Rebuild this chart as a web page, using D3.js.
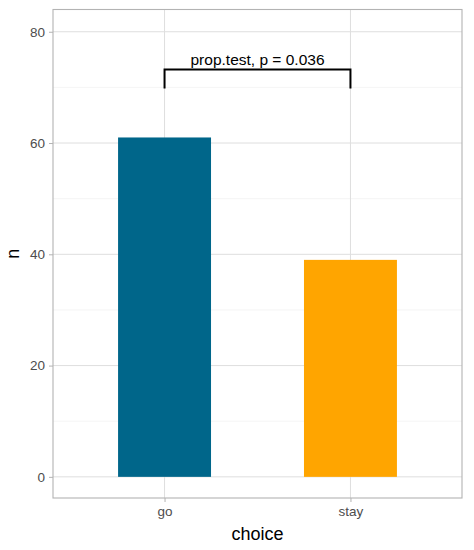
<!DOCTYPE html>
<html>
<head>
<meta charset="utf-8">
<script src="https://cdn.jsdelivr.net/npm/d3@7"></script>
<style>
  body { margin: 0; background: #fff; }
  text { font-family: "Liberation Sans", Arial, sans-serif; }
</style>
</head>
<body>
<div id="chart"></div>
<script>
const categories = ["go", "stay"];
const counts = [61, 39];
const barColors = ["#00668A", "#FFA500"];
const yTicks = [0, 20, 40, 60, 80];
const yMinor = [10, 30, 50, 70];
const testLabel = "prop.test, p = 0.036";
const bracketTop = 73.2;
const bracketBottom = 69.8;

const margin = { top: 9.5, right: 12, bottom: 52, left: 53 },
  width = 474 - margin.left - margin.right,
  height = 550 - margin.top - margin.bottom;

const svg = d3
  .select("#chart")
  .append("svg")
  .attr("width", 474)
  .attr("height", 550)
  .append("g")
  .attr("transform", "translate(" + margin.left + "," + margin.top + ")");

// discrete axis with ggplot's 0.6 expansion
const x = d3.scaleLinear().domain([0.4, 2.6]).range([0, width]);
const xc = (d) => x(categories.indexOf(d) + 1);
const bw = x(1.25) - x(0.75);

const y = d3.scaleLinear().domain([-3.8, 84]).range([height, 0]);

// grid
svg.selectAll(".minor").data(yMinor).enter().append("line")
  .attr("x1", 0).attr("x2", width)
  .attr("y1", (d) => y(d)).attr("y2", (d) => y(d))
  .attr("stroke", "#ebebeb").attr("stroke-width", 0.5);
svg.selectAll(".major").data(yTicks).enter().append("line")
  .attr("x1", 0).attr("x2", width)
  .attr("y1", (d) => y(d)).attr("y2", (d) => y(d))
  .attr("stroke", "#dedede").attr("stroke-width", 1);
svg.selectAll(".vmajor").data(categories).enter().append("line")
  .attr("x1", xc).attr("x2", xc)
  .attr("y1", 0).attr("y2", height)
  .attr("stroke", "#dedede").attr("stroke-width", 1);

// bars
svg.selectAll("rect.bar").data(categories).enter().append("rect")
  .attr("class", "bar")
  .attr("x", (d) => xc(d) - bw / 2)
  .attr("width", bw)
  .attr("y", (d, i) => y(counts[i]))
  .attr("height", (d, i) => y(0) - y(counts[i]))
  .attr("fill", (d, i) => barColors[i]);

// panel border
svg.append("rect")
  .attr("width", width).attr("height", height)
  .attr("fill", "none").attr("stroke", "#b3b3b3").attr("stroke-width", 1.1);

// y axis
const yAxis = svg.append("g")
  .call(d3.axisLeft(y).tickValues(yTicks).tickSize(4).tickPadding(4));
yAxis.select(".domain").remove();
yAxis.selectAll("line").attr("stroke", "#b3b3b3");
yAxis.selectAll("text").attr("fill", "#4d4d4d").style("font-size", "13.5px");

// x axis
const xAxis = svg.append("g")
  .attr("transform", "translate(0," + height + ")")
  .call(d3.axisBottom(x).tickValues([1, 2]).tickFormat((d) => categories[d - 1]).tickSize(4).tickPadding(4));
xAxis.select(".domain").remove();
xAxis.selectAll("line").attr("stroke", "#b3b3b3");
xAxis.selectAll("text").attr("fill", "#4d4d4d").style("font-size", "13.5px");

// axis titles
svg.append("text")
  .attr("x", width / 2).attr("y", height + 42)
  .attr("text-anchor", "middle")
  .style("font-size", "18px")
  .text("choice");
svg.append("text")
  .attr("transform", "translate(" + (-34) + "," + height / 2 + ") rotate(-90)")
  .attr("text-anchor", "middle")
  .style("font-size", "18px")
  .text("n");

// significance bracket
const bx1 = xc(categories[0]), bx2 = xc(categories[1]);
svg.append("path")
  .attr("d", d3.line()([
    [bx1, y(bracketBottom)], [bx1, y(bracketTop)],
    [bx2, y(bracketTop)], [bx2, y(bracketBottom)]
  ]))
  .attr("fill", "none").attr("stroke", "#000").attr("stroke-width", 2);
svg.append("text")
  .attr("x", (bx1 + bx2) / 2).attr("y", y(bracketTop) - 5)
  .attr("text-anchor", "middle")
  .style("font-size", "15.5px")
  .text(testLabel);
</script>
</body>
</html>
